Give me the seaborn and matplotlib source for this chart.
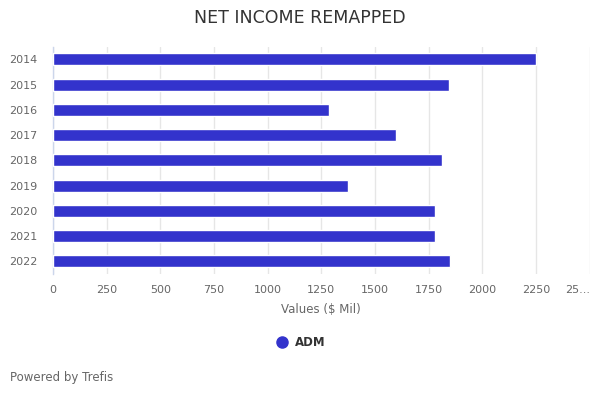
import matplotlib
matplotlib.use("Agg")
import matplotlib.pyplot as plt
import seaborn as sns
import pandas as pd

# values
years = ["2014", "2015", "2016", "2017", "2018", "2019", "2020", "2021", "2022"]
net_income = [2250, 1845, 1288, 1600, 1812, 1375, 1780, 1780, 1850]
x_ticks = [0, 250, 500, 750, 1000, 1250, 1500, 1750, 2000, 2250, 2500]
x_tick_labels = ["0", "250", "500", "750", "1000", "1250", "1500", "1750", "2000", "2250", "25..."]
series_name = "ADM"

BAR_COLOR = "#3333cc"
TEXT_COLOR = "#666666"

sns.set_theme(style="white")
plt.rcParams['font.family'] = ['DejaVu Sans']

df = pd.DataFrame({'year': years, 'value': net_income})

fig = plt.figure(figsize=(6, 4), dpi=100)
ax = fig.add_axes([0.088, 0.315, 0.895, 0.568])

sns.barplot(data=df, x='value', y='year', color=BAR_COLOR, width=0.48,
            saturation=1, ax=ax, zorder=3)

ax.set_xlim(0, 2500)
ax.set_xticks(x_ticks)
ax.set_xticklabels(x_tick_labels)
ax.get_xticklabels()[-1].set_horizontalalignment('right')
ax.xaxis.grid(True, color="#e6e6e6", linewidth=1, zorder=0)
ax.yaxis.grid(False)
ax.tick_params(axis='both', length=0, labelsize=8, labelcolor=TEXT_COLOR)
ax.tick_params(axis='x', pad=8)
ax.tick_params(axis='y', pad=11)

for side in ['top', 'right', 'bottom']:
    ax.spines[side].set_visible(False)
ax.spines['left'].set_color("#ccd6eb")
ax.spines['left'].set_linewidth(1)

ax.set_ylabel("")
ax.set_xlabel("Values ($ Mil)", fontsize=8.5, color=TEXT_COLOR, labelpad=6)

fig.text(0.5, 0.955, "NET INCOME REMAPPED", ha='center', va='center',
         fontsize=12.5, color="#333333")

# legend
fig.lines.append(plt.Line2D([282 / 600], [1 - 342 / 400], transform=fig.transFigure,
                            marker='o', markersize=8, color=BAR_COLOR, linestyle='none'))
fig.text(295 / 600, 1 - 343 / 400, series_name, ha='left', va='center',
         fontsize=8.5, fontweight='bold', color="#333333")

fig.text(10 / 600, 1 - 378 / 400, "Powered by Trefis", ha='left', va='center',
         fontsize=8.5, color=TEXT_COLOR)

fig.savefig("out.png", dpi=100)
